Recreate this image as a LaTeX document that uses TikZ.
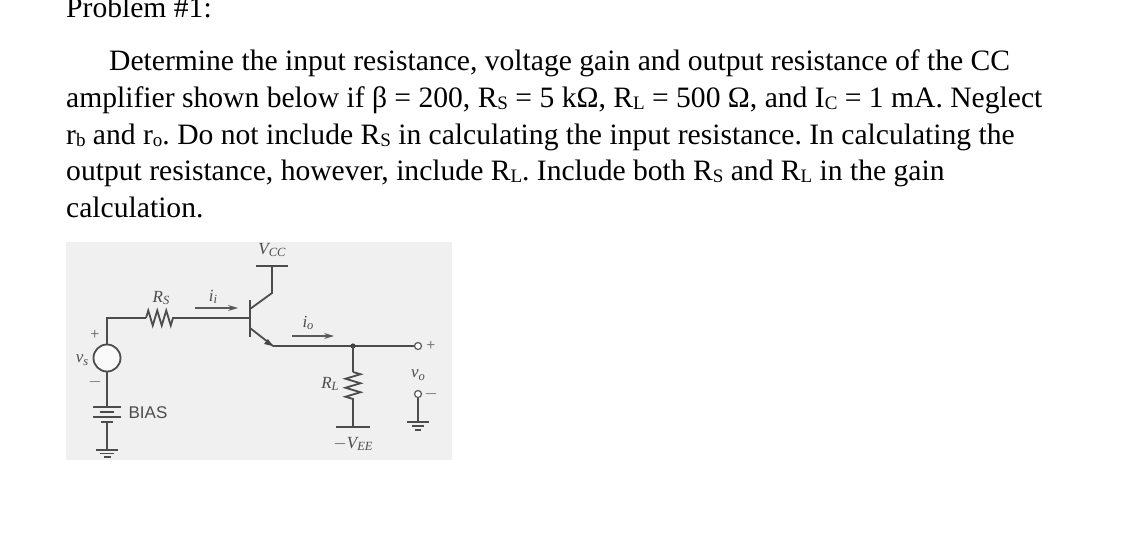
\documentclass[tikz,border=0pt]{standalone}
\usepackage{fontspec}
\setmainfont{Liberation Serif}
\newfontfamily\biasfont{Liberation Sans}
\usetikzlibrary{arrows.meta,positioning}
\usetikzlibrary{calc}
\usetikzlibrary{decorations.pathmorphing}
\newcommand{\lowtext}[1]{{\fontsize{19}{19}\selectfont\raisebox{-2.5pt}{#1}}}
\newcommand{\lowtextlab}[1]{{\fontsize{12.5}{12.5}\selectfont\raisebox{-2.5pt}{#1}}}
\frenchspacing
\tikzset{
  textline/.style={anchor=base west, inner sep=0, font=\fontsize{29.6}{36}\selectfont, text=black},
  wire/.style={line width=1.8pt, draw=black!70},
  res/.style={wire, decorate, decoration={zigzag, amplitude=7.5pt, segment length=9pt}},
  flow/.style={line width=1.2pt, draw=black!65, -{Stealth[length=10pt,width=6pt]}},
  lab/.style={inner sep=0, text=black!70, font=\fontsize{17}{17}\selectfont\itshape},
  sign/.style={inner sep=0, text=black!65, font=\fontsize{16}{16}\selectfont},
  term/.style={circle, draw=black!65, fill=white, line width=1.2pt, inner sep=0, minimum size=7pt},
}
\begin{document}
\begin{tikzpicture}[x=1pt,y=-1pt]
        \useasboundingbox (0,0) rectangle (1128,544);

        % the problem text
        \node[textline] (head) at (66,17) {Problem \#1:};
        \node[textline] (line_a) at (109,70) {Determine the input resistance, voltage gain and output resistance of the CC};
        \node[textline] (line_b) at (66,107) {amplifier shown below if β = 200, R\lowtext{S} = 5 kΩ, R\lowtext{L} = 500 Ω, and I\lowtext{C} = 1 mA. Neglect};
        \node[textline] (line_c) at (66,144) {r\lowtext{b} and r\lowtext{o}. Do not include R\lowtext{S} in calculating the input resistance. In calculating the};
        \node[textline] (line_d) at (66,180) {output resistance, however, include R\lowtext{L}. Include both R\lowtext{S} and R\lowtext{L} in the gain};
        \node[textline] (line_e) at (66,217) {calculation.};

        % the grey panel
        \fill[black!6] (66,242) rectangle (452,460);

        % Define circuit points
        \coordinate (corner) at (107,318);
        \coordinate (rs_in) at (146,318);
        \coordinate (rs_out) at (177,318);
        \coordinate (base) at (250,318);
        \coordinate (base_top) at (250,300);
        \coordinate (base_bot) at (250,337);
        \coordinate (coll_a) at (250,309);
        \coordinate (coll_b) at (272,293);
        \coordinate (coll_c) at (272,266);
        \coordinate (emit_a) at (250,328);
        \coordinate (emit_b) at (273,346);
        \coordinate (junct) at (353,346);
        \coordinate (rl_in) at (353,372);
        \coordinate (rl_out) at (353,400);
        \coordinate (vee) at (353,427);
        \coordinate (bat_top) at (107,407);
        \coordinate (bat_bot) at (107,422);
        \coordinate (gnd_a) at (107,450);
        \coordinate (gnd_b) at (418,422);

        % draw the source and the input side
        \node[circle, draw=black!70, line width=1.8pt, fill=black!2, inner sep=0, minimum size=27pt] (vs) at (107,358) {};
        \draw[wire] (vs) -- (corner) -- (rs_in);
        \draw[res] (rs_in) -- (rs_out);
        \draw[wire] (rs_out) -- (base);
        \draw[wire] (vs) -- (bat_top);

        % draw the bias battery
        \draw[wire] ($(bat_top) + (-14,0)$) -- ($(bat_top) + (14,0)$);
        \draw[wire] ($(bat_top) + (-7,5)$) -- ($(bat_top) + (7,5)$);
        \draw[wire] ($(bat_top) + (-14,10)$) -- ($(bat_top) + (14,10)$);
        \draw[wire] ($(bat_bot) + (-6,0)$) -- ($(bat_bot) + (6,0)$);
        \draw[wire] (bat_bot) -- (gnd_a);

        % draw the transistor
        \draw[wire, line width=2.2pt] (base_top) -- (base_bot);
        \draw[wire] (coll_a) -- (coll_b) -- (coll_c);
        \draw[wire] ($(coll_c) + (-16,0)$) -- ($(coll_c) + (16,0)$);
        \draw[wire] (emit_a) -- (emit_b);
        \fill[black!72] ($(emit_b) + (0,0)$) -- ($(emit_b) + (-9,-2)$) -- ($(emit_b) + (-5,-7)$) -- cycle;

        % draw the output side
        \node[term] (out_p) at (418,346) {};
        \node[term] (out_m) at (418,394) {};
        \draw[wire] (emit_b) -- (out_p);
        \fill[black!75] (junct) circle (2.6);
        \draw[wire] (junct) -- (rl_in);
        \draw[res] (rl_in) -- (rl_out);
        \draw[wire] (rl_out) -- (vee);
        \draw[wire] ($(vee) + (-17,0)$) -- ($(vee) + (17,0)$);
        \draw[wire] (out_m) -- (gnd_b);

        % draw the grounds
        \draw[wire] ($(gnd_a) + (-11,0)$) -- ($(gnd_a) + (11,0)$);
        \draw[wire] ($(gnd_a) + (-7,3.5)$) -- ($(gnd_a) + (7,3.5)$);
        \draw[wire] ($(gnd_a) + (-3.5,7)$) -- ($(gnd_a) + (3.5,7)$);
        \draw[wire] ($(gnd_b) + (-11,0)$) -- ($(gnd_b) + (11,0)$);
        \draw[wire] ($(gnd_b) + (-6,4)$) -- ($(gnd_b) + (6,4)$);
        \draw[wire] ($(gnd_b) + (-3,8)$) -- ($(gnd_b) + (3,8)$);

        % current arrows
        \coordinate (ii_a) at (195,308);
        \coordinate (ii_b) at (238,308);
        \coordinate (io_a) at (292,336);
        \coordinate (io_b) at (334,336);
        \draw[flow] (ii_a) -- (ii_b);
        \draw[flow] (io_a) -- (io_b);

        % add the labels
        \node[lab] (lab_rs) at (161,298) {R\lowtextlab{S}};
        \node[lab] (lab_ii) at (213,297) {i\lowtextlab{i}};
        \node[lab] (lab_io) at (308,323) {i\lowtextlab{o}};
        \node[lab] (lab_vcc) at (272,250) {V\lowtextlab{CC}};
        \node[lab] (lab_rl) at (330,384) {R\lowtextlab{L}};
        \node[lab] (lab_vee) at (353,444) {$-$V\lowtextlab{EE}};
        \node[lab] (lab_vs) at (82,360) {v\lowtextlab{s}};
        \node[lab] (lab_vo) at (418,375) {v\lowtextlab{o}};
        \node[sign] (vs_p) at (95,335) {+};
        \node[sign] (vs_m) at (95,382) {$-$};
        \node[sign] (out_plus) at (431,346) {+};
        \node[sign] (out_minus) at (431,394) {$-$};
        \node[lab, font=\fontsize{17}{17}\biasfont] (bias) at (148,413) {BIAS};

\end{tikzpicture}
\end{document}
